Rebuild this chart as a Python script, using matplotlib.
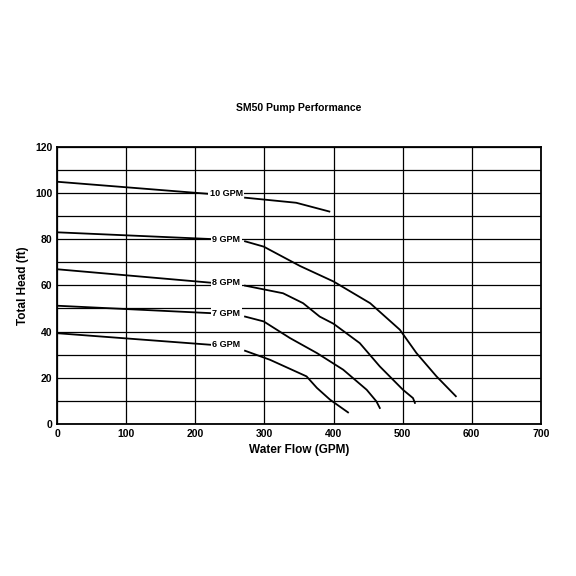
import matplotlib
matplotlib.use("Agg")
import matplotlib.pyplot as plt

plt.rcParams['font.family'] = ['Liberation Sans', 'DejaVu Sans']

labels = ["10 GPM", "9 GPM", "8 GPM", "7 GPM", "6 GPM"]
label_y = [99.6, 80.1, 61.2, 48.0, 34.3]

# left segments (before label) and right segments (after label)
left_x = [[0, 221.6], [0, 221.6], [0, 221.6], [0, 221.6], [0, 221.6]]
left_y = [[104.9, 99.6], [83.0, 80.1], [67.0, 61.2], [51.2, 48.0], [39.3, 34.3]]

right_x = [
    [272, 346, 394],
    [272, 299, 351.6, 400, 453, 496, 520, 549, 577],
    [272, 327, 356, 380, 400, 438, 467, 500.5, 515, 517.8],
    [272, 299, 337, 376, 414, 448, 462, 467],
    [272, 308, 361, 376, 395, 421],
]
right_y = [
    [98.0, 95.8, 92.0],
    [79.1, 76.8, 68.4, 61.7, 52.3, 40.8, 30.7, 20.6, 12.0],
    [59.9, 56.6, 52.3, 46.5, 43.4, 35.0, 24.9, 14.8, 11.2, 9.1],
    [46.5, 44.4, 37.2, 30.7, 23.5, 14.8, 9.8, 6.9],
    [31.7, 27.8, 20.6, 15.6, 10.5, 5.0],
]

fig = plt.figure(figsize=(5.76, 5.76), dpi=100)
ax = fig.add_axes([0.099, 0.264, 0.84, 0.481])

for i in range(len(labels)):
    ax.plot(left_x[i], left_y[i], c="black", lw=1.3)
    ax.plot(right_x[i], right_y[i], c="black", lw=1.3)
    ax.text(245, label_y[i], labels[i], fontsize=6.5, fontweight="bold",
            ha="center", va="center", zorder=5,
            bbox=dict(facecolor="white", edgecolor="none", pad=1))

ax.set_xlim(0, 700)
ax.set_ylim(0, 120)
ax.set_xticks(range(0, 701, 100))
ax.set_yticks(range(0, 121, 20))
ax.set_yticks(range(0, 121, 10), minor=True)
ax.grid(True, which="both", color="black", lw=0.9)
ax.tick_params(which="both", length=0, labelsize=7.5)
for lbl in ax.get_xticklabels() + ax.get_yticklabels():
    lbl.set_fontweight("bold")
for s in ax.spines.values():
    s.set_linewidth(1.3)

ax.set_xlabel("Water Flow (GPM)", fontsize=8.5, fontweight="bold")
ax.set_ylabel("Total Head (ft)", fontsize=8.5, fontweight="bold")
ax.set_title("SM50 Pump Performance", fontsize=7.5, fontweight="bold", pad=26)

fig.savefig("out.png", dpi=100)
